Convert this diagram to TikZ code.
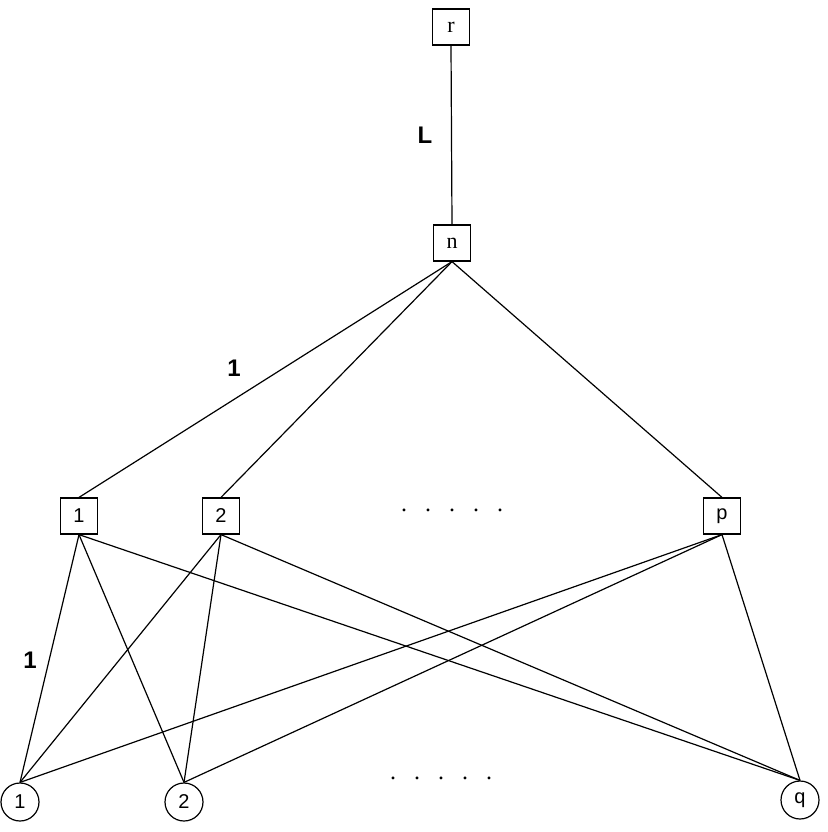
\documentclass[tikz,border=0pt]{standalone}
\usepackage{fontspec}
\setmainfont{Liberation Serif}
\newfontfamily\lab{Liberation Sans}
\begin{document}
\begin{tikzpicture}[x=1pt,y=-1pt,
 bx/.style={draw,line width=1.2pt,minimum width=37pt,minimum height=36pt,inner sep=0pt,font=\fontsize{22}{24}\selectfont},
 bxs/.style={bx,font=\lab\fontsize{20}{24}\selectfont},
 cr/.style={draw,circle,line width=1.2pt,minimum size=38pt,inner sep=0pt,font=\lab\fontsize{20}{24}\selectfont},
 ed/.style={line width=1.2pt},
 lb/.style={font=\lab\bfseries\fontsize{24}{26}\selectfont}]
\useasboundingbox (0,0) rectangle (827,832);
\node[bx] (r) at (451,27) {r};
\node[bx] (n) at (452,243) {n};
\node[bxs] (b1) at (79,516) {1};
\node[bxs] (b2) at (221,516) {2};
\node[bxs] (bp) at (722,516) {p};
\node[cr] (c1) at (20,802) {1};
\node[cr] (c2) at (184,802) {2};
\node[cr] (cq) at (800,800) {q};
\node[lb] (L) at (425,135) {L};
\node[lb] (o1) at (234,368) {1};
\node[lb] (o2) at (30,660) {1};
\node[font=\fontsize{24}{26}\selectfont] (d1) at (452,510) {.\hspace{18pt}.\hspace{18pt}.\hspace{18pt}.\hspace{18pt}.};
\node[font=\fontsize{24}{26}\selectfont] (d2) at (441,778) {.\hspace{18pt}.\hspace{18pt}.\hspace{18pt}.\hspace{18pt}.};
\draw[ed] (r.south) -- (n.north);
\foreach \b in {b1,b2,bp} \draw[ed] (n.south) -- (\b.north);
\foreach \b in {b1,b2,bp} \foreach \c in {c1,c2,cq} \draw[ed] (\b.south) -- (\c.north);
\end{tikzpicture}
\end{document}
